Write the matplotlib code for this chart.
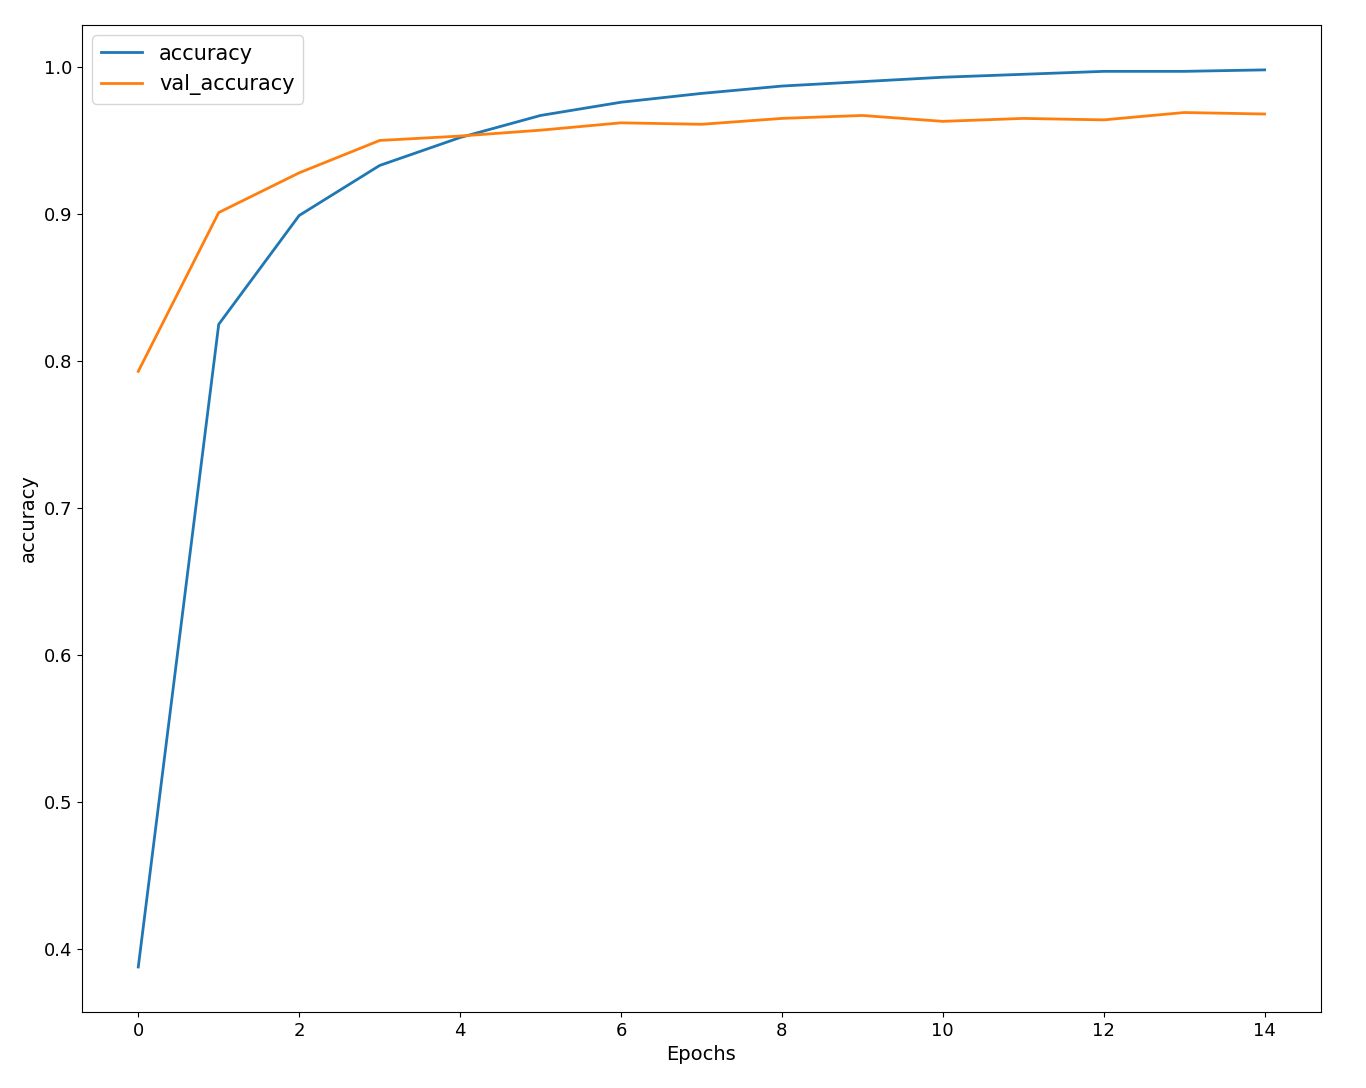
import matplotlib
matplotlib.use('Agg')
import matplotlib.pyplot as plt

epochs = list(range(15))
accuracy = [0.388, 0.825, 0.899, 0.933, 0.952, 0.967, 0.976, 0.982, 0.987, 0.990,
            0.993, 0.995, 0.997, 0.997, 0.998]
val_accuracy = [0.793, 0.901, 0.928, 0.950, 0.953, 0.957, 0.962, 0.961, 0.965, 0.967,
                0.963, 0.965, 0.964, 0.969, 0.968]

fig = plt.figure(figsize=(13.66, 10.88), dpi=100)
plt.subplots_adjust(left=0.06, right=0.967, top=0.977, bottom=0.07)
plt.plot(epochs, accuracy, label='accuracy', lw=2)
plt.plot(epochs, val_accuracy, label='val_accuracy', lw=2)
plt.xlabel('Epochs', fontsize=14)
plt.ylabel('accuracy', fontsize=14)
plt.xticks(range(0, 15, 2))
plt.tick_params(labelsize=13)
plt.legend(loc='upper left', fontsize=15)
plt.savefig('out.png')
